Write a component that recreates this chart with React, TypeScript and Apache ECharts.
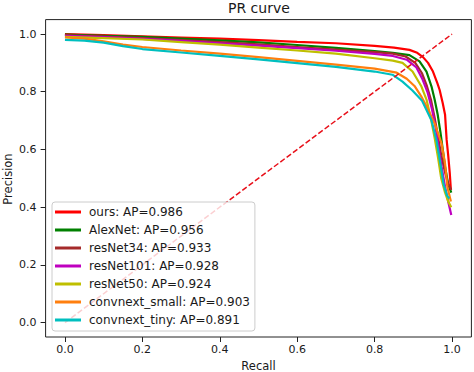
import React, { useEffect, useRef } from "react";
import * as echarts from "echarts";

const modelNames = [
  "ours: AP=0.986",
  "AlexNet: AP=0.956",
  "resNet34: AP=0.933",
  "resNet101: AP=0.928",
  "resNet50: AP=0.924",
  "convnext_small: AP=0.903",
  "convnext_tiny: AP=0.891",
];
const modelColors = ["#ff0000", "#008000", "#a52a2a", "#bf00bf", "#bfbf00", "#ff7f0e", "#00bfbf"];

const oursPR = [[0,1.0],[0.1,0.996],[0.2,0.992],[0.3,0.988],[0.4,0.984],[0.5,0.979],[0.6,0.973],[0.7,0.968],[0.8,0.959],[0.85,0.953],[0.89,0.945],[0.91,0.935],[0.925,0.92],[0.938,0.9],[0.95,0.872],[0.962,0.83],[0.968,0.806],[0.976,0.76],[0.982,0.72],[0.986,0.634],[0.99,0.58],[0.994,0.52],[0.997,0.46]];
const alexNetPR = [[0,0.998],[0.1,0.994],[0.2,0.99],[0.3,0.984],[0.4,0.978],[0.5,0.971],[0.6,0.962],[0.7,0.952],[0.8,0.941],[0.847,0.935],[0.89,0.927],[0.916,0.905],[0.934,0.87],[0.947,0.818],[0.955,0.773],[0.963,0.72],[0.97,0.66],[0.976,0.6],[0.982,0.54],[0.99,0.48],[0.998,0.45]];
const resNet34PR = [[0,0.996],[0.1,0.991],[0.2,0.986],[0.3,0.979],[0.4,0.972],[0.5,0.964],[0.6,0.955],[0.7,0.946],[0.8,0.937],[0.847,0.932],[0.88,0.922],[0.905,0.9],[0.922,0.865],[0.935,0.82],[0.946,0.77],[0.955,0.71],[0.963,0.65],[0.972,0.58],[0.982,0.52],[0.99,0.48],[0.998,0.46]];
const resNet101PR = [[0,0.994],[0.1,0.989],[0.2,0.983],[0.3,0.976],[0.4,0.968],[0.5,0.96],[0.6,0.951],[0.7,0.942],[0.8,0.931],[0.847,0.924],[0.883,0.911],[0.908,0.884],[0.924,0.842],[0.937,0.797],[0.948,0.74],[0.957,0.68],[0.965,0.61],[0.973,0.54],[0.982,0.47],[0.99,0.42],[0.998,0.373]];
const resNet50PR = [[0,0.99],[0.1,0.986],[0.2,0.981],[0.3,0.972],[0.4,0.963],[0.5,0.953],[0.6,0.943],[0.7,0.932],[0.8,0.916],[0.847,0.908],[0.872,0.9],[0.898,0.87],[0.921,0.818],[0.934,0.773],[0.945,0.71],[0.955,0.64],[0.964,0.57],[0.972,0.5],[0.982,0.45],[0.99,0.42],[0.998,0.4]];
const convnextSmallPR = [[0,0.988],[0.05,0.984],[0.1,0.975],[0.15,0.963],[0.2,0.955],[0.3,0.943],[0.4,0.932],[0.5,0.92],[0.6,0.907],[0.7,0.894],[0.8,0.88],[0.857,0.866],[0.883,0.845],[0.903,0.82],[0.92,0.785],[0.934,0.75],[0.955,0.69],[0.973,0.62],[0.982,0.55],[0.988,0.47],[0.997,0.42]];
const convnextTinyPR = [[0,0.98],[0.05,0.977],[0.1,0.97],[0.15,0.958],[0.2,0.948],[0.3,0.936],[0.4,0.924],[0.5,0.912],[0.6,0.899],[0.7,0.886],[0.8,0.87],[0.846,0.859],[0.872,0.835],[0.897,0.805],[0.922,0.77],[0.947,0.7],[0.96,0.63],[0.97,0.55],[0.978,0.48],[0.987,0.44],[0.993,0.43]];

const diagonal = [[0, 0], [1, 1]];
const tickValues = [0, 0.2, 0.4, 0.6, 0.8, 1.0];

const allPR = [oursPR, alexNetPR, resNet34PR, resNet101PR, resNet50PR, convnextSmallPR, convnextTinyPR];

const FONT = "DejaVu Sans";
const TXT = "#1a1a1a";

export default function App() {
  const ref = useRef<HTMLDivElement>(null);
  useEffect(() => {
    document.body.style.margin = "0";
    if (!ref.current) return;
    const chart = echarts.init(ref.current, null, { renderer: "svg" });
    const axisCommon = {
      type: "value",
      min: -0.05,
      max: 1.05,
      axisLine: { show: false, onZero: false },
      splitLine: { show: false },
      axisTick: { show: true, length: 5, customValues: tickValues, lineStyle: { color: "#222", width: 1 } },
      nameTextStyle: { fontFamily: FONT, fontSize: 11.5, color: TXT },
    };
    chart.setOption({
      animation: false,
      backgroundColor: "#ffffff",
      title: {
        text: "PR curve",
        left: 228,
        top: 1,
        padding: 0,
        textStyle: { fontFamily: FONT, fontSize: 14, fontWeight: "normal", color: TXT },
      },
      graphic: [
        {
          type: "text",
          x: 8,
          y: 179,
          rotation: Math.PI / 2,
          style: {
            text: "Precision",
            font: `11.5px "${FONT}"`,
            fill: TXT,
            align: "center",
            verticalAlign: "middle",
          },
        },
      ],
      grid: {
        left: 45.6,
        right: 2.6,
        top: 19.6,
        bottom: 35,
        show: true,
        borderColor: "#222",
        borderWidth: 1,
        backgroundColor: "transparent",
        containLabel: false,
        outerBoundsMode: "none",
      },
      legend: {
        data: modelNames,
        orient: "vertical",
        left: 52,
        top: 202,
        itemWidth: 26,
        itemHeight: 3,
        itemGap: 0,
        icon: "rect",
        padding: [1, 5, 2, 3],
        backgroundColor: "rgba(255,255,255,0.8)",
        borderColor: "#cccccc",
        borderWidth: 1,
        borderRadius: 3,
        selectedMode: false,
        textStyle: { fontFamily: FONT, fontSize: 12, color: TXT, lineHeight: 18, padding: [0, 0, 0, 3] },
      },
      xAxis: {
        ...axisCommon,
        name: "Recall",
        nameLocation: "middle",
        nameGap: 22,
        axisLabel: {
          customValues: tickValues,
          margin: 7,
          fontFamily: FONT,
          fontSize: 11,
          color: TXT,
          formatter: (v: number) => v.toFixed(1),
        },
      },
      yAxis: {
        ...axisCommon,
        axisLabel: {
          customValues: tickValues,
          margin: 9,
          fontFamily: FONT,
          fontSize: 11,
          color: TXT,
          formatter: (v: number) => v.toFixed(1),
        },
      },
      series: [
        ...allPR.map((d, i) => ({
          name: modelNames[i],
          type: "line",
          data: d,
          showSymbol: false,
          symbol: "none",
          color: modelColors[i],
          lineStyle: { width: 2.2, color: modelColors[i] },
          silent: true,
        })),
        {
          name: "diag",
          type: "line",
          data: diagonal,
          showSymbol: false,
          symbol: "none",
          color: "#e8101a",
          lineStyle: { width: 1.5, type: [5.5, 2.4], color: "#e8101a" },
          silent: true,
          z: 3,
        },
      ],
    });
    return () => chart.dispose();
  }, []);
  return <div ref={ref} style={{ width: 474, height: 372 }} />;
}
